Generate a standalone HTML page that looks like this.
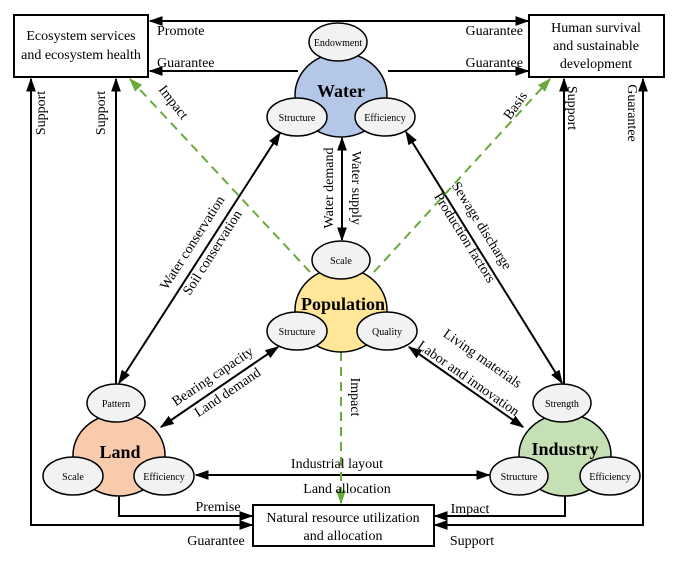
<!DOCTYPE html>
<html><head><meta charset="utf-8"><style>
html,body{margin:0;padding:0;background:#fff;}
svg{display:block;font-family:"Liberation Serif",serif;}
</style></head><body>
<svg width="685" height="562" viewBox="0 0 685 562" xmlns="http://www.w3.org/2000/svg">
<defs>
<marker id="a" viewBox="0 0 10 10" refX="9" refY="5" markerWidth="7" markerHeight="7" orient="auto-start-reverse"><path d="M0,1.5 L10,5 L0,8.5 z" fill="#000"/></marker>
<marker id="g" viewBox="0 0 10 10" refX="9" refY="5" markerWidth="7" markerHeight="7" orient="auto-start-reverse"><path d="M0,1.5 L10,5 L0,8.5 z" fill="#6aaa3a"/></marker>
</defs>
<g stroke="#000" stroke-width="2" fill="none">
<line x1="150" y1="21" x2="528" y2="21" marker-start="url(#a)" marker-end="url(#a)"/>
<line x1="298" y1="71" x2="150" y2="71" marker-end="url(#a)"/>
<line x1="388" y1="71" x2="528" y2="71" marker-end="url(#a)"/>
<polyline points="252,525 31,525 31,79" marker-end="url(#a)"/>
<polyline points="31,525 252,525" marker-end="url(#a)"/>
<line x1="116" y1="384" x2="116" y2="79" marker-end="url(#a)"/>
<line x1="564" y1="384" x2="564" y2="79" marker-end="url(#a)"/>
<polyline points="643,79 643,525 435,525" marker-end="url(#a)"/>
<line x1="643" y1="525" x2="643" y2="79" marker-end="url(#a)"/>
<polyline points="119,496 119,516 252,516" marker-end="url(#a)"/>
<polyline points="565,496 565,516 435,516" marker-end="url(#a)"/>
<line x1="196" y1="475" x2="489" y2="475" marker-start="url(#a)" marker-end="url(#a)"/>
<line x1="342" y1="138" x2="342" y2="240" marker-start="url(#a)" marker-end="url(#a)"/>
<line x1="280" y1="133" x2="119" y2="383" marker-start="url(#a)" marker-end="url(#a)"/>
<line x1="406" y1="132" x2="562" y2="383" marker-start="url(#a)" marker-end="url(#a)"/>
<line x1="278" y1="347" x2="161" y2="427" marker-start="url(#a)" marker-end="url(#a)"/>
<line x1="409" y1="347" x2="523" y2="427" marker-start="url(#a)" marker-end="url(#a)"/>
</g>
<g stroke="#6aaa3a" stroke-width="2" fill="none" stroke-dasharray="9,6">
<line x1="310" y1="272" x2="130" y2="79" marker-end="url(#g)"/>
<line x1="374" y1="272" x2="550" y2="79" marker-end="url(#g)"/>
<line x1="341" y1="352" x2="341" y2="503" marker-end="url(#g)"/>
</g>
<g stroke="#000" stroke-width="2" fill="#fff">
<rect x="14" y="15" width="134" height="62"/>
<rect x="529" y="15" width="135" height="62"/>
<rect x="253" y="505" width="181" height="41"/>
</g>
<g stroke="#000" stroke-width="1.5">
<ellipse cx="341" cy="95" rx="46" ry="42" fill="#b4c7e7"/>
<ellipse cx="341" cy="310" rx="46" ry="42" fill="#ffe699"/>
<ellipse cx="119" cy="455" rx="46" ry="41" fill="#f8cbad"/>
<ellipse cx="565" cy="455" rx="46" ry="41" fill="#c5e0b4"/>
</g>
<g stroke="#000" stroke-width="1.5" fill="#f2f2f2">
<ellipse cx="338" cy="42" rx="29" ry="19"/>
<ellipse cx="297" cy="117" rx="30" ry="19"/>
<ellipse cx="385" cy="117" rx="30" ry="19"/>
<ellipse cx="341" cy="260" rx="29" ry="19"/>
<ellipse cx="297" cy="331" rx="30" ry="19"/>
<ellipse cx="387" cy="331" rx="30" ry="19"/>
<ellipse cx="116" cy="403" rx="29" ry="19"/>
<ellipse cx="73" cy="476" rx="30" ry="19"/>
<ellipse cx="164" cy="476" rx="30" ry="19"/>
<ellipse cx="562" cy="403" rx="29" ry="19"/>
<ellipse cx="519" cy="476" rx="29" ry="19"/>
<ellipse cx="610" cy="476" rx="30" ry="19"/>
</g>
<g font-size="10" text-anchor="middle" fill="#000">
<text x="338" y="46">Endowment</text>
<text x="297" y="121">Structure</text>
<text x="385" y="121">Efficiency</text>
<text x="341" y="264">Scale</text>
<text x="297" y="335">Structure</text>
<text x="387" y="335">Quality</text>
<text x="116" y="407">Pattern</text>
<text x="73" y="480">Scale</text>
<text x="164" y="480">Efficiency</text>
<text x="562" y="407">Strength</text>
<text x="519" y="480">Structure</text>
<text x="610" y="480">Efficiency</text>
</g>
<g font-size="18" font-weight="bold" text-anchor="middle">
<text x="341" y="97">Water</text>
<text x="343" y="310">Population</text>
<text x="120" y="458">Land</text>
<text x="565" y="455">Industry</text>
</g>
<g font-size="14" text-anchor="middle">
<text x="81" y="40">Ecosystem services</text>
<text x="81" y="59">and ecosystem health</text>
<text x="596" y="32">Human survival</text>
<text x="596" y="50">and sustainable</text>
<text x="596" y="68">development</text>
<text x="343" y="522">Natural resource utilization</text>
<text x="343" y="540">and allocation</text>
</g>
<g font-size="14">
<text x="157" y="35">Promote</text>
<text x="157" y="67">Guarantee</text>
<text x="523" y="35" text-anchor="end">Guarantee</text>
<text x="523" y="67" text-anchor="end">Guarantee</text>
<text x="337" y="468" text-anchor="middle">Industrial layout</text>
<text x="347" y="493" text-anchor="middle">Land allocation</text>
<text x="218" y="511" text-anchor="middle">Premise</text>
<text x="216" y="545" text-anchor="middle">Guarantee</text>
<text x="470" y="513" text-anchor="middle">Impact</text>
<text x="472" y="545" text-anchor="middle">Support</text>
<text transform="translate(45,113) rotate(-90)" text-anchor="middle">Support</text>
<text transform="translate(105,113) rotate(-90)" text-anchor="middle">Support</text>
<text transform="translate(568,108) rotate(90)" text-anchor="middle">Support</text>
<text transform="translate(628,113) rotate(90)" text-anchor="middle">Guarantee</text>
<text transform="translate(333,188) rotate(-90)" text-anchor="middle">Water demand</text>
<text transform="translate(352,188) rotate(90)" text-anchor="middle">Water supply</text>
<text transform="translate(351,397) rotate(90)" text-anchor="middle">Impact</text>
<text transform="translate(170,105) rotate(52)" text-anchor="middle">Impact</text>
<text transform="translate(519,108) rotate(-55)" text-anchor="middle">Basis</text>
<text transform="translate(196,245) rotate(-57.5)" text-anchor="middle">Water conservation</text>
<text transform="translate(216,255) rotate(-57.5)" text-anchor="middle">Soil conservation</text>
<text transform="translate(478,228) rotate(58)" text-anchor="middle">Sewage discharge</text>
<text transform="translate(461,240) rotate(58)" text-anchor="middle">Production factors</text>
<text transform="translate(215,380) rotate(-34)" text-anchor="middle">Bearing capacity</text>
<text transform="translate(230,396) rotate(-34)" text-anchor="middle">Land demand</text>
<text transform="translate(480,362) rotate(35)" text-anchor="middle">Living materials</text>
<text transform="translate(466,382) rotate(35)" text-anchor="middle">Labor and innovation</text>
</g>
</svg>
</body></html>
